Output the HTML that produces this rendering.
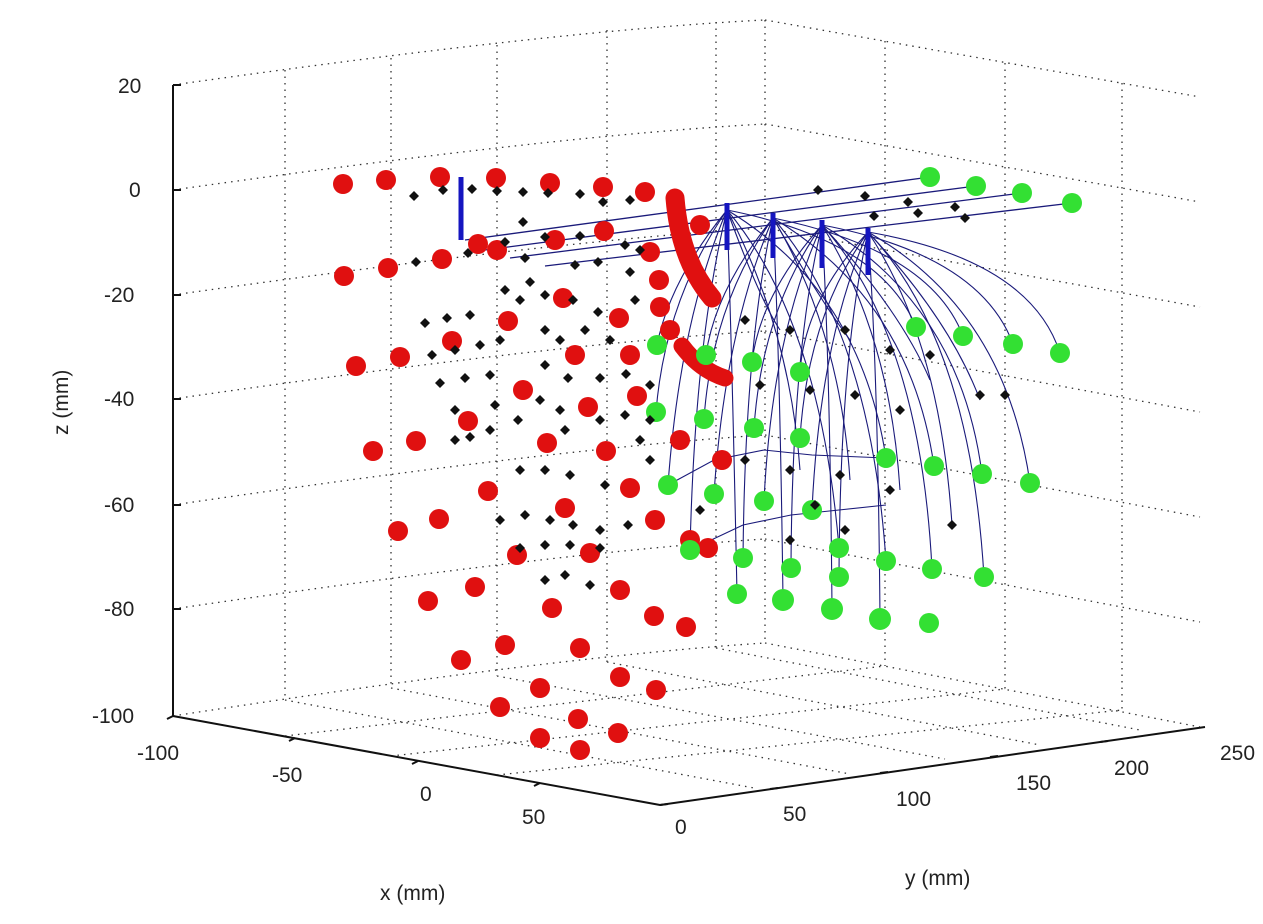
<!DOCTYPE html>
<html><head><meta charset="utf-8"><style>
body{margin:0;background:#fff}
svg{display:block}
text{font-family:"Liberation Sans",sans-serif;font-size:21px;fill:#222}
.g{stroke:#333;stroke-width:1.3;stroke-dasharray:1.5 5;fill:none}
.r{fill:#e01010}
.gr{fill:#33e033}
.d{fill:#111}
.f{stroke:#1a1a7a;stroke-width:1.1;fill:none}
</style></head><body>
<svg width="1263" height="924" viewBox="0 0 1263 924">
<g class="g">
<path d="M173 85 Q560 30 765 20"/>
<path d="M173 190 Q560 135 765 124"/>
<path d="M173 295 Q560 240 765 228"/>
<path d="M173 399 Q560 343 765 331"/>
<path d="M173 505 Q560 448 765 435"/>
<path d="M173 609 Q560 552 765 539"/>
<path d="M173 716 Q560 656 765 643"/>
<path d="M765 20 L1200 97"/><path d="M765 124 L1200 202"/><path d="M765 228 L1200 307"/>
<path d="M765 331 L1200 412"/><path d="M765 435 L1200 517"/><path d="M765 539 L1200 622"/>
<path d="M765 643 L1200 727"/>
<path d="M285 70 V700"/><path d="M391 58 V688"/><path d="M497 45 V676"/><path d="M607 30 V662"/><path d="M716 22 V648"/><path d="M765 20 V643"/>
<path d="M885 41 V666"/><path d="M1005 63 V689"/><path d="M1122 83 V710"/>
<path d="M285 736 L885 666"/><path d="M391 756 L1005 689"/><path d="M497 775 L1122 710"/>
<path d="M285 700 L754 788"/><path d="M391 688 L850 774"/><path d="M497 676 L945 759"/><path d="M607 662 L1040 745"/><path d="M716 648 L1140 730"/>
</g>
<g stroke="#111" stroke-width="2" fill="none">
<path d="M173 85 V716 L660 805 L1205 727"/>
<path d="M173 85 h8 M173 190 h8 M173 295 h8 M173 399 h8 M173 505 h8 M173 609 h8"/>
<path d="M173 716 l-6 3 M295 738 l-6 3 M418 761 l-6 3 M540 783 l-6 3 M660 805 l8 -1 M770 789 l8-1 M880 773 l8-1 M990 757 l8-1 M1100 742 l8 -1"/>
</g>
<text x="118" y="93">20</text><text x="129" y="197">0</text><text x="104" y="302">-20</text><text x="104" y="406">-40</text><text x="104" y="512">-60</text><text x="104" y="616">-80</text><text x="92" y="723">-100</text>
<text x="137" y="760">-100</text><text x="272" y="782">-50</text><text x="420" y="801">0</text><text x="522" y="824">50</text>
<text x="675" y="834">0</text><text x="783" y="821">50</text><text x="896" y="806">100</text><text x="1016" y="790">150</text><text x="1114" y="775">200</text><text x="1220" y="760">250</text>
<text x="380" y="900">x (mm)</text><text x="905" y="885">y (mm)</text>
<text transform="translate(68,435) rotate(-90)">z (mm)</text>
<g stroke="#1a1a7a" stroke-width="1.3">
<path d="M465 240 L930 177"/><path d="M485 250 L976 186"/><path d="M510 258 L1022 193"/><path d="M545 266 L1072 203"/>
</g>
<g class="f">
<path d="M727 210 Q880 240 916 327"/><path d="M773 218 Q930 250 963 336"/><path d="M822 225 Q980 255 1013 344"/><path d="M868 232 Q1030 260 1060 353"/>
<path d="M727 210 Q670 280 657 345"/><path d="M773 218 Q715 290 706 355"/><path d="M822 225 Q760 295 752 362"/><path d="M868 232 Q805 300 800 372"/>
<path d="M727 210 Q665 300 656 412"/><path d="M773 218 Q712 305 704 419"/><path d="M822 225 Q762 310 754 428"/><path d="M868 232 Q808 315 800 438"/>
<path d="M727 210 Q860 290 886 458"/><path d="M773 218 Q910 300 934 466"/><path d="M822 225 Q960 305 982 474"/><path d="M868 232 Q1005 310 1030 483"/>
<path d="M727 210 Q680 320 668 485"/><path d="M773 218 Q725 330 714 494"/><path d="M822 225 Q772 335 764 501"/><path d="M868 232 Q820 340 812 510"/>
<path d="M727 210 Q695 340 690 550"/><path d="M773 218 Q745 345 743 558"/><path d="M822 225 Q792 350 791 568"/><path d="M868 232 Q840 355 839 577"/>
<path d="M727 210 Q820 320 839 548"/><path d="M773 218 Q870 330 886 561"/><path d="M822 225 Q920 335 932 569"/><path d="M868 232 Q970 340 984 577"/>
<path d="M727 210 Q732 350 737 594"/><path d="M773 218 Q780 360 783 600"/><path d="M822 225 Q830 365 832 609"/><path d="M868 232 Q878 370 880 619"/>
<path d="M727 210 Q760 300 780 330"/><path d="M773 218 Q820 300 850 340"/><path d="M868 232 Q950 320 980 400"/><path d="M822 225 Q900 310 930 380"/>
<path d="M727 210 Q790 330 800 470"/><path d="M773 218 Q840 330 850 480"/><path d="M822 225 Q890 335 900 490"/><path d="M868 232 Q940 340 952 525"/>
<path d="M668 485 L714 460 L764 450 L812 455 L886 458"/><path d="M690 550 L743 525 L791 515 L839 510 L886 505"/>
</g>
<g stroke="#1515c0" stroke-width="5">
<path d="M461 177 V240"/><path d="M727 203 V250"/><path d="M773 213 V258"/><path d="M822 220 V268"/><path d="M868 228 V275"/>
</g>
<path d="M675 198 Q680 260 712 298" stroke="#e01010" stroke-width="19" fill="none" stroke-linecap="round"/>
<path d="M682 346 Q700 370 725 378" stroke="#e01010" stroke-width="17" fill="none" stroke-linecap="round"/>
<g class="r">
<circle cx="343" cy="184" r="10"/><circle cx="386" cy="180" r="10"/><circle cx="440" cy="177" r="10"/><circle cx="496" cy="178" r="10"/><circle cx="550" cy="183" r="10"/><circle cx="603" cy="187" r="10"/><circle cx="645" cy="192" r="10"/>
<circle cx="344" cy="276" r="10"/><circle cx="388" cy="268" r="10"/><circle cx="442" cy="259" r="10"/><circle cx="478" cy="244" r="10"/><circle cx="497" cy="250" r="10"/><circle cx="555" cy="240" r="10"/><circle cx="604" cy="231" r="10"/><circle cx="650" cy="252" r="10"/><circle cx="700" cy="225" r="10"/>
<circle cx="563" cy="298" r="10"/><circle cx="619" cy="318" r="10"/><circle cx="659" cy="280" r="10"/><circle cx="660" cy="307" r="10"/><circle cx="508" cy="321" r="10"/><circle cx="452" cy="341" r="10"/><circle cx="400" cy="357" r="10"/><circle cx="356" cy="366" r="10"/><circle cx="575" cy="355" r="10"/><circle cx="630" cy="355" r="10"/><circle cx="670" cy="330" r="10"/>
<circle cx="523" cy="390" r="10"/><circle cx="588" cy="407" r="10"/><circle cx="637" cy="396" r="10"/><circle cx="468" cy="421" r="10"/><circle cx="416" cy="441" r="10"/><circle cx="373" cy="451" r="10"/><circle cx="547" cy="443" r="10"/><circle cx="606" cy="451" r="10"/><circle cx="680" cy="440" r="10"/><circle cx="722" cy="460" r="10"/>
<circle cx="488" cy="491" r="10"/><circle cx="565" cy="508" r="10"/><circle cx="630" cy="488" r="10"/><circle cx="655" cy="520" r="10"/><circle cx="398" cy="531" r="10"/><circle cx="439" cy="519" r="10"/><circle cx="517" cy="555" r="10"/><circle cx="590" cy="553" r="10"/><circle cx="690" cy="540" r="10"/><circle cx="708" cy="548" r="10"/>
<circle cx="620" cy="590" r="10"/><circle cx="552" cy="608" r="10"/><circle cx="475" cy="587" r="10"/><circle cx="428" cy="601" r="10"/><circle cx="654" cy="616" r="10"/><circle cx="686" cy="627" r="10"/><circle cx="505" cy="645" r="10"/><circle cx="461" cy="660" r="10"/><circle cx="580" cy="648" r="10"/><circle cx="620" cy="677" r="10"/><circle cx="540" cy="688" r="10"/><circle cx="656" cy="690" r="10"/><circle cx="500" cy="707" r="10"/><circle cx="578" cy="719" r="10"/><circle cx="618" cy="733" r="10"/><circle cx="540" cy="738" r="10"/><circle cx="580" cy="750" r="10"/>
</g>
<g class="gr">
<circle cx="930" cy="177" r="10"/><circle cx="976" cy="186" r="10"/><circle cx="1022" cy="193" r="10"/><circle cx="1072" cy="203" r="10"/>
<circle cx="916" cy="327" r="10"/><circle cx="963" cy="336" r="10"/><circle cx="1013" cy="344" r="10"/><circle cx="1060" cy="353" r="10"/>
<circle cx="657" cy="345" r="10"/><circle cx="706" cy="355" r="10"/><circle cx="752" cy="362" r="10"/><circle cx="800" cy="372" r="10"/>
<circle cx="656" cy="412" r="10"/><circle cx="704" cy="419" r="10"/><circle cx="754" cy="428" r="10"/><circle cx="800" cy="438" r="10"/>
<circle cx="886" cy="458" r="10"/><circle cx="934" cy="466" r="10"/><circle cx="982" cy="474" r="10"/><circle cx="1030" cy="483" r="10"/>
<circle cx="668" cy="485" r="10"/><circle cx="714" cy="494" r="10"/><circle cx="764" cy="501" r="10"/><circle cx="812" cy="510" r="10"/>
<circle cx="690" cy="550" r="10"/><circle cx="743" cy="558" r="10"/><circle cx="791" cy="568" r="10"/><circle cx="839" cy="577" r="10"/>
<circle cx="839" cy="548" r="10"/><circle cx="886" cy="561" r="10"/><circle cx="932" cy="569" r="10"/><circle cx="984" cy="577" r="10"/>
<circle cx="737" cy="594" r="10"/><circle cx="783" cy="600" r="11"/><circle cx="832" cy="609" r="11"/><circle cx="880" cy="619" r="11"/><circle cx="929" cy="623" r="10"/>
</g>
<g class="d">
<path d="M414 191l5 5-5 5-5-5z"/><path d="M443 185l5 5-5 5-5-5z"/><path d="M472 184l5 5-5 5-5-5z"/><path d="M497 186l5 5-5 5-5-5z"/><path d="M523 187l5 5-5 5-5-5z"/><path d="M548 188l5 5-5 5-5-5z"/><path d="M580 189l5 5-5 5-5-5z"/><path d="M603 197l5 5-5 5-5-5z"/><path d="M630 195l5 5-5 5-5-5z"/>
<path d="M523 217l5 5-5 5-5-5z"/><path d="M545 232l5 5-5 5-5-5z"/><path d="M580 231l5 5-5 5-5-5z"/><path d="M625 240l5 5-5 5-5-5z"/><path d="M640 245l5 5-5 5-5-5z"/>
<path d="M505 237l5 5-5 5-5-5z"/><path d="M525 253l5 5-5 5-5-5z"/><path d="M575 260l5 5-5 5-5-5z"/><path d="M598 257l5 5-5 5-5-5z"/><path d="M630 267l5 5-5 5-5-5z"/>
<path d="M416 257l5 5-5 5-5-5z"/><path d="M468 248l5 5-5 5-5-5z"/>
<path d="M505 285l5 5-5 5-5-5z"/><path d="M530 277l5 5-5 5-5-5z"/><path d="M545 290l5 5-5 5-5-5z"/><path d="M573 295l5 5-5 5-5-5z"/><path d="M598 307l5 5-5 5-5-5z"/><path d="M635 295l5 5-5 5-5-5z"/>
<path d="M425 318l5 5-5 5-5-5z"/><path d="M447 313l5 5-5 5-5-5z"/><path d="M470 310l5 5-5 5-5-5z"/><path d="M520 295l5 5-5 5-5-5z"/><path d="M545 325l5 5-5 5-5-5z"/><path d="M560 335l5 5-5 5-5-5z"/><path d="M585 325l5 5-5 5-5-5z"/><path d="M610 335l5 5-5 5-5-5z"/>
<path d="M432 350l5 5-5 5-5-5z"/><path d="M455 345l5 5-5 5-5-5z"/><path d="M480 340l5 5-5 5-5-5z"/><path d="M500 335l5 5-5 5-5-5z"/><path d="M545 360l5 5-5 5-5-5z"/><path d="M568 373l5 5-5 5-5-5z"/><path d="M600 373l5 5-5 5-5-5z"/><path d="M626 369l5 5-5 5-5-5z"/><path d="M650 380l5 5-5 5-5-5z"/>
<path d="M440 378l5 5-5 5-5-5z"/><path d="M465 373l5 5-5 5-5-5z"/><path d="M490 370l5 5-5 5-5-5z"/><path d="M540 395l5 5-5 5-5-5z"/><path d="M560 405l5 5-5 5-5-5z"/><path d="M600 415l5 5-5 5-5-5z"/><path d="M625 410l5 5-5 5-5-5z"/><path d="M650 415l5 5-5 5-5-5z"/>
<path d="M455 405l5 5-5 5-5-5z"/><path d="M495 400l5 5-5 5-5-5z"/><path d="M518 415l5 5-5 5-5-5z"/><path d="M565 425l5 5-5 5-5-5z"/><path d="M640 435l5 5-5 5-5-5z"/>
<path d="M455 435l5 5-5 5-5-5z"/><path d="M470 432l5 5-5 5-5-5z"/><path d="M490 425l5 5-5 5-5-5z"/><path d="M520 465l5 5-5 5-5-5z"/><path d="M545 465l5 5-5 5-5-5z"/><path d="M570 470l5 5-5 5-5-5z"/><path d="M605 480l5 5-5 5-5-5z"/><path d="M650 455l5 5-5 5-5-5z"/>
<path d="M500 515l5 5-5 5-5-5z"/><path d="M525 510l5 5-5 5-5-5z"/><path d="M550 515l5 5-5 5-5-5z"/><path d="M573 520l5 5-5 5-5-5z"/><path d="M600 525l5 5-5 5-5-5z"/><path d="M628 520l5 5-5 5-5-5z"/>
<path d="M520 543l5 5-5 5-5-5z"/><path d="M545 540l5 5-5 5-5-5z"/><path d="M570 540l5 5-5 5-5-5z"/><path d="M600 543l5 5-5 5-5-5z"/>
<path d="M545 575l5 5-5 5-5-5z"/><path d="M565 570l5 5-5 5-5-5z"/><path d="M590 580l5 5-5 5-5-5z"/>
<path d="M818 185l5 5-5 5-5-5z"/><path d="M865 191l5 5-5 5-5-5z"/><path d="M908 197l5 5-5 5-5-5z"/><path d="M955 202l5 5-5 5-5-5z"/><path d="M874 211l5 5-5 5-5-5z"/><path d="M918 208l5 5-5 5-5-5z"/><path d="M965 213l5 5-5 5-5-5z"/>
<path d="M745 315l5 5-5 5-5-5z"/><path d="M790 325l5 5-5 5-5-5z"/><path d="M845 325l5 5-5 5-5-5z"/><path d="M890 345l5 5-5 5-5-5z"/><path d="M930 350l5 5-5 5-5-5z"/><path d="M980 390l5 5-5 5-5-5z"/><path d="M1005 390l5 5-5 5-5-5z"/>
<path d="M760 380l5 5-5 5-5-5z"/><path d="M810 385l5 5-5 5-5-5z"/><path d="M855 390l5 5-5 5-5-5z"/><path d="M900 405l5 5-5 5-5-5z"/><path d="M745 455l5 5-5 5-5-5z"/><path d="M790 465l5 5-5 5-5-5z"/><path d="M840 470l5 5-5 5-5-5z"/><path d="M890 485l5 5-5 5-5-5z"/><path d="M952 520l5 5-5 5-5-5z"/><path d="M845 525l5 5-5 5-5-5z"/><path d="M815 500l5 5-5 5-5-5z"/><path d="M790 535l5 5-5 5-5-5z"/><path d="M700 505l5 5-5 5-5-5z"/>
</g>
</svg>
</body></html>
